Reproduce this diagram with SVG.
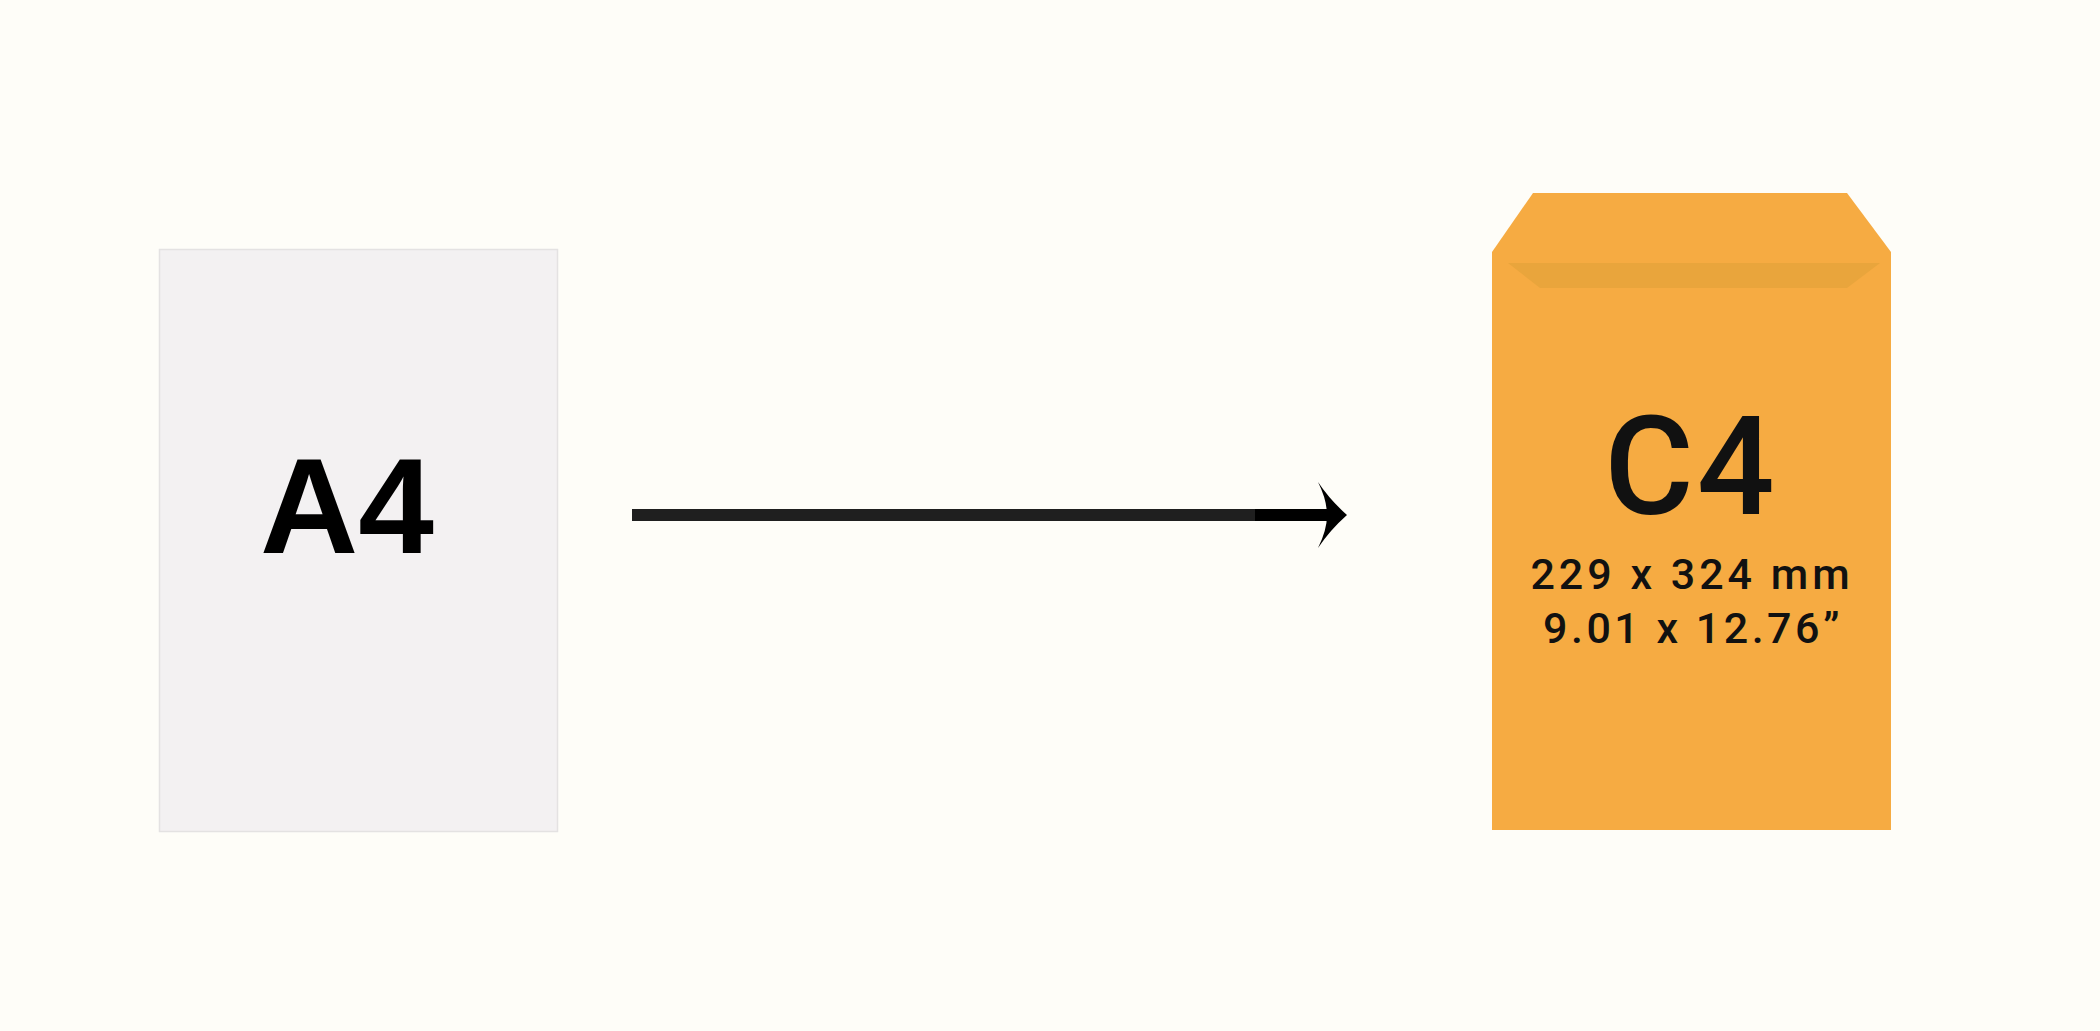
<svg xmlns="http://www.w3.org/2000/svg" width="2100" height="1031" viewBox="0 0 2100 1031">
  <style>
    .lbl { font-family: "Liberation Sans", Arial, sans-serif; font-weight: bold; fill: #000; }
    .env { font-family: Roboto, "Liberation Sans", sans-serif; font-weight: 500; fill: #111; text-anchor: middle; }
  </style>
  <rect x="0" y="0" width="2100" height="1031" fill="#FEFDF8"/>
  <g id="a4">
    <rect x="159.5" y="249.5" width="398" height="582" fill="#F3F1F2" stroke="#E4E2E2" stroke-width="1.5"/>
    <text class="lbl" x="347" y="553" font-size="136" text-anchor="middle">A4</text>
  </g>
  <g id="connectors">
    <rect x="632" y="509" width="628" height="12" fill="#1F1F1F"/>
    <rect x="1255" y="509" width="75" height="12" fill="#000"/>
    <path d="M1347,515 Q1330,500 1318,482 Q1327,500 1327,515 Q1327,530 1318,548 Q1330,530 1347,515 Z" fill="#000"/>
  </g>
  <g id="c4">
    <path d="M1533,193 L1847,193 L1891,252 L1891,830 L1492,830 L1492,252 Z" fill="#F6AB42"/>
    <path d="M1508,263 L1880,263 L1847,288 L1540,288 Z" fill="#E9A53C"/>
    <text class="env" x="1691" y="514" font-size="137" letter-spacing="3">C4</text>
    <text class="env" x="1692" y="589" font-size="43" letter-spacing="4">229 x 324 mm</text>
    <text class="env" x="1693" y="643" font-size="43" letter-spacing="3.5">9.01 x 12.76”</text>
  </g>
</svg>
